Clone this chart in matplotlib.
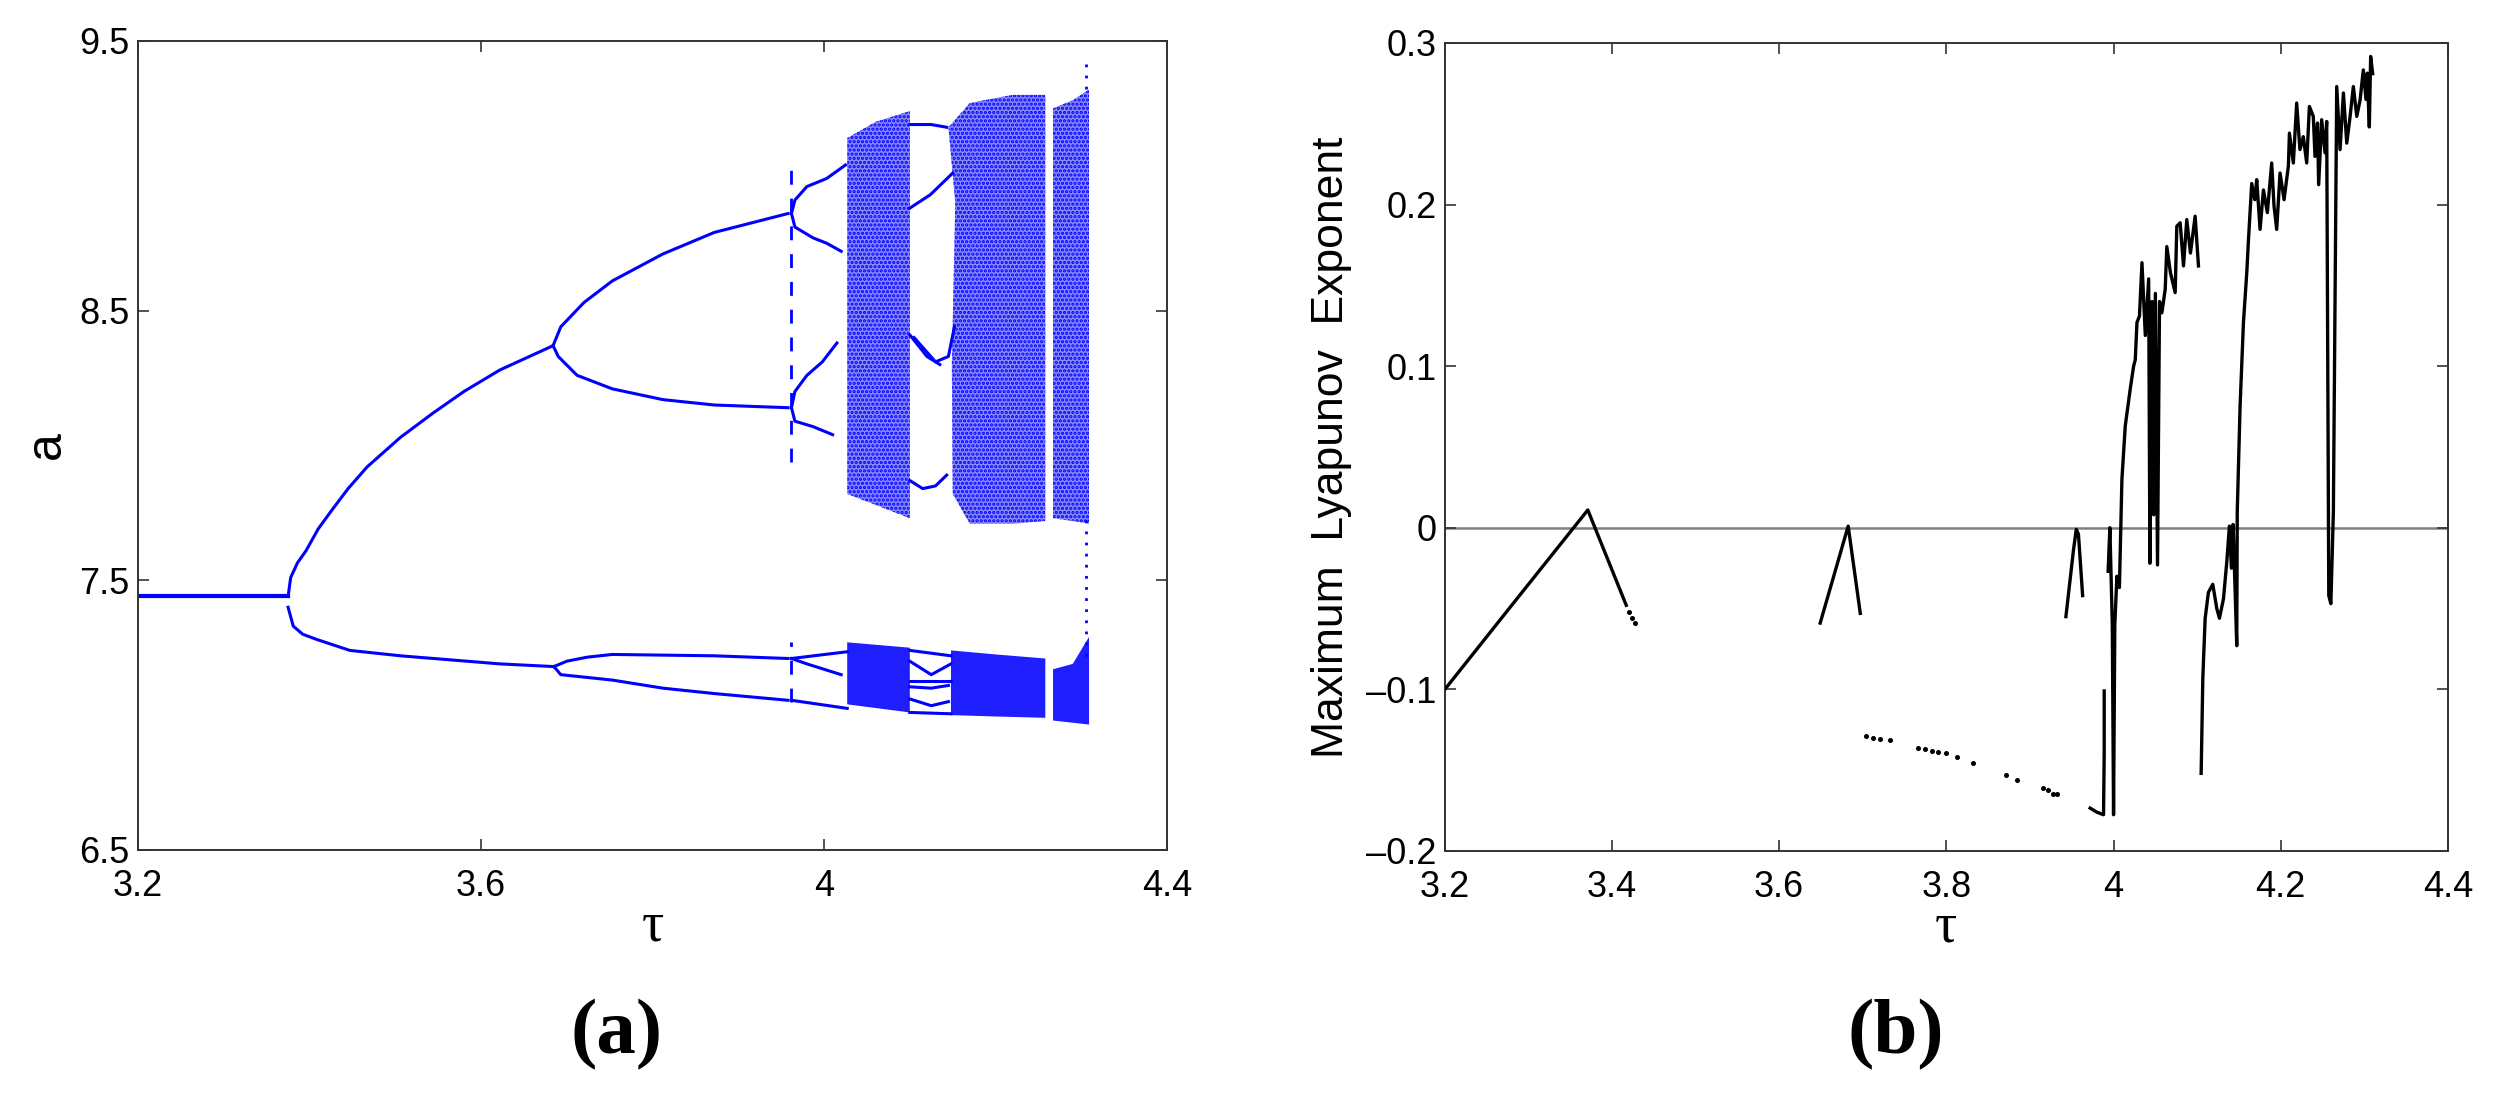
import matplotlib.pyplot as plt

plt.rcParams['hatch.color'] = 'blue'
plt.rcParams['hatch.linewidth'] = 1.6

# ---------------- (a) bifurcation diagram: tau vs a ----------------
fixed_tau = [3.20, 3.375]
fixed_a = [7.44, 7.44]

p2_up_tau = [3.375, 3.378, 3.386, 3.396, 3.410, 3.426, 3.445, 3.467, 3.506, 3.544, 3.580, 3.622, 3.684]
p2_up_a = [7.44, 7.51, 7.565, 7.61, 7.69, 7.76, 7.84, 7.92, 8.03, 8.12, 8.20, 8.28, 8.37]
p2_lo_tau = [3.375, 3.381, 3.392, 3.409, 3.447, 3.506, 3.622, 3.685]
p2_lo_a = [7.40, 7.33, 7.30, 7.28, 7.24, 7.22, 7.19, 7.18]

p4_tau = [
    [3.684, 3.693, 3.720, 3.753, 3.812, 3.872, 3.958],
    [3.684, 3.690, 3.712, 3.753, 3.812, 3.872, 3.958],
    [3.685, 3.700, 3.724, 3.753, 3.872, 3.958],
    [3.685, 3.693, 3.753, 3.812, 3.872, 3.958],
]
p4_a = [
    [8.37, 8.44, 8.53, 8.61, 8.71, 8.79, 8.86],
    [8.37, 8.33, 8.26, 8.21, 8.17, 8.15, 8.14],
    [7.18, 7.20, 7.215, 7.225, 7.22, 7.21],
    [7.18, 7.15, 7.13, 7.10, 7.08, 7.055],
]

p8_tau = [
    [3.962, 3.966, 3.980, 4.003, 4.025],
    [3.962, 3.966, 3.987, 4.003, 4.020],
    [3.962, 3.966, 3.980, 3.998, 4.015],
    [3.962, 3.966, 3.987, 4.010],
    [3.962, 4.027],
    [3.962, 3.980, 4.000, 4.020],
    [3.962, 4.027],
]
p8_a = [
    [8.86, 8.91, 8.96, 8.99, 9.04],
    [8.86, 8.81, 8.77, 8.75, 8.72],
    [8.14, 8.20, 8.26, 8.31, 8.38],
    [8.14, 8.09, 8.07, 8.04],
    [7.21, 7.235],
    [7.21, 7.19, 7.17, 7.15],
    [7.055, 7.025],
]

# periodic window between the chaotic bands
win_tau = [
    [4.100, 4.125, 4.143],
    [4.100, 4.124, 4.150],
    [4.100, 4.120, 4.135],
    [4.105, 4.130, 4.145, 4.152],
    [4.100, 4.115, 4.130, 4.143],
    [4.100, 4.148],
    [4.100, 4.125, 4.148],
    [4.100, 4.148],
    [4.100, 4.125, 4.145],
    [4.100, 4.125, 4.145],
    [4.100, 4.148],
]
win_a = [
    [9.19, 9.19, 9.18],
    [8.88, 8.93, 9.01],
    [8.41, 8.33, 8.30],
    [8.40, 8.31, 8.33, 8.44],
    [7.87, 7.84, 7.85, 7.89],
    [7.24, 7.22],
    [7.20, 7.15, 7.19],
    [7.125, 7.125],
    [7.105, 7.10, 7.11],
    [7.06, 7.035, 7.05],
    [7.01, 7.005],
]

# chaotic bands (outline of the scattered region)
chaos_up_tau = [
    [4.027, 4.060, 4.100, 4.100, 4.060, 4.027],
    [4.145, 4.170, 4.220, 4.258, 4.258, 4.220, 4.170, 4.150, 4.149, 4.153, 4.145],
    [4.267, 4.290, 4.309, 4.309, 4.290, 4.267],
]
chaos_up_a = [
    [9.14, 9.20, 9.24, 7.73, 7.78, 7.82],
    [9.18, 9.27, 9.30, 9.30, 7.72, 7.71, 7.71, 7.82, 8.30, 8.90, 9.18],
    [9.25, 9.28, 9.32, 7.71, 7.72, 7.73],
]
chaos_lo_tau = [
    [4.027, 4.100, 4.100, 4.027],
    [4.148, 4.200, 4.258, 4.258, 4.200, 4.148],
    [4.267, 4.290, 4.309, 4.309, 4.267],
]
chaos_lo_a = [
    [7.27, 7.25, 7.01, 7.04],
    [7.24, 7.225, 7.21, 6.99, 6.995, 7.00],
    [7.17, 7.19, 7.29, 6.965, 6.98],
]

flip_tau = 3.962
flip_a = [[7.94, 9.03], [7.05, 7.27]]
edge_tau = 4.306
edge_a = [[7.22, 7.75], [9.32, 9.42]]

# ---------------- (b) maximum Lyapunov exponent ----------------
lyap_tau = [
    [3.200, 3.283, 3.371, 3.417],
    [3.649, 3.6825, 3.697],
    [3.943, 3.952, 3.9554, 3.958, 3.963],
    [3.972, 3.980, 3.988, 3.9888, 3.9888],
    [3.9935, 3.9956, 3.9985, 4.0000, 4.0015, 4.0040, 4.0070, 4.010, 4.014, 4.020,
     4.024, 4.026, 4.028, 4.031, 4.034, 4.038, 4.042, 4.0435, 4.046, 4.048,
     4.050, 4.0526, 4.055, 4.0578, 4.0618, 4.0637, 4.068, 4.0737, 4.0757, 4.0797,
     4.0837, 4.0876, 4.092, 4.0976, 4.1016],
    [4.1048, 4.1068, 4.1096, 4.1135, 4.1187, 4.1235, 4.1267, 4.1315, 4.1355, 4.1386,
     4.1410, 4.1430, 4.1455, 4.1474, 4.1480, 4.1514, 4.1554, 4.1594, 4.1614, 4.1633,
     4.1653, 4.169, 4.1713, 4.1753, 4.1793, 4.184, 4.1892, 4.192, 4.1952, 4.1992,
     4.204, 4.2092, 4.2104, 4.2151, 4.2191, 4.223, 4.227, 4.2311, 4.2343, 4.239,
     4.241, 4.244, 4.2454, 4.249, 4.253, 4.255, 4.2575, 4.2600, 4.2630, 4.2670,
     4.2710, 4.2750, 4.2790, 4.2830, 4.2869, 4.2910, 4.2950, 4.2988, 4.3020, 4.3036,
     4.3060, 4.3076, 4.3100],
]
lyap_val = [
    [-0.100, -0.046, 0.011, -0.048],
    [-0.059, 0.001, -0.053],
    [-0.055, -0.014, -0.001, -0.004, -0.042],
    [-0.1735, -0.176, -0.1776, -0.140, -0.101],
    [-0.027, 0.000, -0.060, -0.1776, -0.060, -0.030, -0.037, 0.030, 0.063, 0.086,
     0.100, 0.104, 0.127, 0.131, 0.164, 0.119, 0.154, -0.022, 0.140, 0.008,
     0.145, -0.023, 0.140, 0.133, 0.1475, 0.174, 0.158, 0.1455, 0.1866, 0.1887,
     0.162, 0.1907, 0.170, 0.1928, 0.162],
    [-0.152, -0.093, -0.056, -0.040, -0.035, -0.050, -0.056, -0.044, -0.021, 0.001,
     -0.025, 0.002, -0.040, -0.073, 0.010, 0.0755, 0.127, 0.158, 0.178, 0.195,
     0.213, 0.203, 0.2154, 0.1846, 0.209, 0.195, 0.2257, 0.199, 0.1846, 0.2195,
     0.203, 0.224, 0.2442, 0.2257, 0.2628, 0.234, 0.242, 0.2257, 0.2607, 0.2545,
     0.2298, 0.2504, 0.2123, 0.2525, 0.232, 0.2514, -0.042, -0.047, 0.010, 0.273,
     0.234, 0.269, 0.238, 0.2545, 0.273, 0.2545, 0.2648, 0.2833, 0.265, 0.2813,
     0.248, 0.2916, 0.281],
]
lyap_dots_tau = [3.420, 3.424, 3.428, 3.7035, 3.712, 3.720, 3.732, 3.766, 3.775,
                 3.783, 3.790, 3.799, 3.813, 3.832, 3.871, 3.885, 3.916, 3.922,
                 3.928, 3.932]
lyap_dots_val = [-0.052, -0.056, -0.059, -0.129, -0.130, -0.131, -0.1316, -0.136,
                 -0.137, -0.138, -0.139, -0.1395, -0.142, -0.1457, -0.153, -0.1563,
                 -0.161, -0.162, -0.1645, -0.165]

tick_font = 'Liberation Sans'
serif_font = 'Liberation Serif'

fig = plt.figure(figsize=(25.05, 10.98), dpi=100)
ax1 = fig.add_axes([0.0551, 0.2259, 0.4108, 0.7368])
ax2 = fig.add_axes([0.5768, 0.2250, 0.4004, 0.7359])

# panel (a)
blue = '#0000ff'
for ta, aa in zip(chaos_up_tau, chaos_up_a):
    ax1.fill(ta, aa, facecolor='#8a8aff', edgecolor=blue, hatch='....', linewidth=0)
for ta, aa in zip(chaos_lo_tau, chaos_lo_a):
    ax1.fill(ta, aa, facecolor='#1e1eff', edgecolor=blue, linewidth=0)

ax1.plot(fixed_tau, fixed_a, color=blue, lw=3.0)
ax1.plot(p2_up_tau, p2_up_a, color=blue, lw=2.2)
ax1.plot(p2_lo_tau, p2_lo_a, color=blue, lw=2.2)
for ta, aa in zip(p4_tau + p8_tau, p4_a + p8_a):
    ax1.plot(ta, aa, color=blue, lw=2.2)
for ta, aa in zip(win_tau, win_a):
    ax1.plot(ta, aa, color=blue, lw=2.2)
for seg in flip_a:
    ax1.plot([flip_tau, flip_tau], seg, color=blue, lw=2.0, dashes=(5, 5))
for seg in edge_a:
    ax1.plot([edge_tau, edge_tau], seg, color=blue, lw=2.0, dashes=(1, 3))

ax1.set_xlim(3.2, 4.4)
ax1.set_ylim(6.5, 9.5)
ax1.set_xticks([3.2, 3.6, 4.0, 4.4])
ax1.set_xticklabels(['3.2', '3.6', '4', '4.4'])
ax1.set_yticks([6.5, 7.5, 8.5, 9.5])
ax1.set_yticklabels(['6.5', '7.5', '8.5', '9.5'])
ax1.set_ylabel('a', fontsize=36, family=tick_font, va='center')
ax1.yaxis.set_label_coords(-0.089, 0.5)
ax1.set_xlabel('τ', fontsize=40, family=serif_font, va='center')
ax1.xaxis.set_label_coords(0.5, -0.095)

# panel (b)
ax2.axhline(0, color='#808080', lw=1.8, zorder=1)
for ta, la in zip(lyap_tau, lyap_val):
    ax2.plot(ta, la, color='black', lw=2.4, zorder=3)
ax2.plot(lyap_dots_tau, lyap_dots_val, 'o', color='black', ms=2.6, zorder=3)

ax2.set_xlim(3.2, 4.4)
ax2.set_ylim(-0.2, 0.3)
ax2.set_xticks([3.2, 3.4, 3.6, 3.8, 4.0, 4.2, 4.4])
ax2.set_xticklabels(['3.2', '3.4', '3.6', '3.8', '4', '4.2', '4.4'])
ax2.set_yticks([-0.2, -0.1, 0.0, 0.1, 0.2, 0.3])
ax2.set_yticklabels(['\u20130.2', '\u20130.1', '0', '0.1', '0.2', '0.3'])
ax2.set_ylabel('Maximum  Lyapunov  Exponent', fontsize=32, family=tick_font, va='center')
ax2.yaxis.set_label_coords(-0.113, 0.5)
ax2.set_xlabel('τ', fontsize=40, family=serif_font, va='center')
ax2.xaxis.set_label_coords(0.5, -0.095)

for ax in (ax1, ax2):
    for sp in ax.spines.values():
        sp.set_color('#333333')
        sp.set_linewidth(1.4)
    ax.tick_params(direction='in', length=8, width=1.2, color='#333333',
                   top=True, right=True, labelsize=26)
    ax.tick_params(axis='x', pad=14)
    ax.tick_params(axis='y', pad=6)
    for lab in ax.get_xticklabels() + ax.get_yticklabels():
        lab.set_family(tick_font)

fig.text(617 / 2505, 1 - 1035 / 1098, '(a)', fontsize=57, fontweight='bold',
         family=serif_font, ha='center', va='center')
fig.text(1896 / 2505, 1 - 1035 / 1098, '(b)', fontsize=57, fontweight='bold',
         family=serif_font, ha='center', va='center')

fig.savefig('out.png', dpi=100)
